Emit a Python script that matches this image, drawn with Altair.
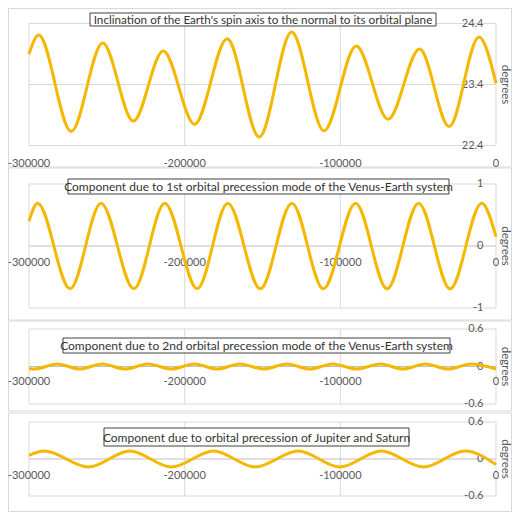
import altair as alt
import pandas as pd

# ---- data (extrema and end points, years) ----
years1 = [-300000, -293800, -272900, -252700, -233000, -213800, -193600, -172700,
          -152100, -131300, -110500, -89800, -69300, -49100, -30100, -10900, 0]
vals1 = [23.90, 24.21, 22.63, 24.08, 22.80, 23.95, 22.75, 24.15,
         22.54, 24.26, 22.64, 24.03, 22.83, 23.98, 22.71, 24.18, 23.42]

years2 = [-300000, -294500, -273570, -253750, -232600, -212800, -191900, -172300,
          -151400, -131150, -110900, -90200, -69950, -49700, -29450, -9200, 0]
vals2 = [0.40, 0.69, -0.69, 0.69, -0.69, 0.69, -0.69, 0.69,
         -0.69, 0.69, -0.69, 0.69, -0.69, 0.69, -0.69, 0.69, 0.15]

years3 = [-300000, -296600, -281800, -267400, -253000, -238200, -223400, -208600,
          -193800, -179100, -164400, -149350, -134300, -119600, -104900, -89550,
          -74200, -59800, -45400, -30700, -16000, 0]
vals3 = [-0.035, -0.04, 0.04, -0.04, 0.04, -0.04, 0.04, -0.04,
         0.04, -0.04, 0.04, -0.04, 0.04, -0.04, 0.04, -0.04,
         0.04, -0.04, 0.04, -0.04, 0.04, -0.039]

years4 = [-300000, -290100, -261800, -235200, -208500, -181400, -154700, -127000,
          -100300, -73700, -46500, -19900, 0]
vals4 = [0.06, 0.13, -0.13, 0.13, -0.13, 0.13, -0.13, 0.13,
         -0.13, 0.13, -0.13, 0.13, -0.09]

titles = [
    "Inclination of the Earth's spin axis to the normal to its orbital plane",
    "Component due to 1st orbital precession mode of the Venus-Earth system",
    "Component due to 2nd orbital precession mode of the Venus-Earth system",
    "Component due to orbital precession of Jupiter and Saturn",
]
x_ticks = [-300000, -200000, -100000, 0]
x_grid = [-200000, -100000]
y_ticks = [[22.4, 23.4, 24.4], [-1, 0, 1], [-0.6, 0, 0.6], [-0.6, 0, 0.6]]
y_title = "degrees"

LINE = "#F5B800"
GRID = "#d9d9d9"
ZERO = "#bfbfbf"
LAB = "#595959"
FONT = "Lato"
XR = [21, 488]
W, H = 504, 504


def xenc(field="year"):
    return alt.X(f"{field}:Q", scale=alt.Scale(domain=[-300000, 0], range=XR, nice=False, zero=False),
                 axis=None)


def lab(v):
    return f"{v:g}"


def panel(years, vals, ticks, yrange, title, box, frame, fsize, xbase_bottom, xdy, midcolor):
    lo, mid, hi = ticks
    ys = alt.Scale(domain=[lo, hi], range=yrange, nice=False, zero=False)

    def yenc(f):
        return alt.Y(f"{f}:Q", scale=ys, axis=None)

    df = pd.DataFrame({"year": years, "deg": vals})
    line = alt.Chart(df).mark_line(color=LINE, strokeWidth=3, interpolate="monotone").encode(
        x=xenc(), y=yenc("deg"))

    plotbox = alt.Chart(pd.DataFrame({"x0": [x_ticks[0]], "x1": [x_ticks[-1]], "y0": [lo], "y1": [hi]})
                        ).mark_rect(fillOpacity=0, stroke=GRID, strokeWidth=1).encode(
        x=xenc("x0"), x2="x1:Q", y=yenc("y0"), y2="y1:Q")
    vgrid = alt.Chart(pd.DataFrame({"year": x_grid, "y0": [lo] * len(x_grid), "y1": [hi] * len(x_grid)})
                      ).mark_rule(color=GRID, strokeWidth=1).encode(x=xenc(), y=yenc("y0"), y2="y1:Q")
    hgrid = alt.Chart(pd.DataFrame({"x0": [x_ticks[0]], "x1": [x_ticks[-1]], "y0": [mid]})
                      ).mark_rule(color=midcolor, strokeWidth=1).encode(x=xenc("x0"), x2="x1:Q", y=yenc("y0"))

    base = lo if xbase_bottom else 0
    xlab = alt.Chart(pd.DataFrame({"year": x_ticks, "y0": [base] * len(x_ticks),
                                   "lab": [lab(v) for v in x_ticks]})
                     ).mark_text(font=FONT, fontSize=11, color=LAB, align="center", baseline="middle",
                                 dy=xdy).encode(x=xenc(), y=yenc("y0"), text="lab:N")
    ylab = alt.Chart(pd.DataFrame({"year": [0, 0, 0], "y0": ticks, "lab": [lab(v) for v in ticks]})
                     ).mark_text(font=FONT, fontSize=11, color=LAB, align="right", baseline="middle",
                                 dx=-12.5).encode(x=xenc(), y=yenc("y0"), text="lab:N")
    ytit = alt.Chart(pd.DataFrame({"y0": [mid], "t": [y_title]})
                     ).mark_text(font=FONT, fontSize=11.5, color=LAB, align="center", baseline="middle",
                                 angle=90).encode(x=alt.value(497), y=yenc("y0"), text="t:N")

    one = pd.DataFrame({"t": [title]})
    fr = alt.Chart(one).mark_rect(fillOpacity=0, stroke=GRID, strokeWidth=1).encode(
        x=alt.value(frame[0]), x2=alt.value(frame[1]), y=alt.value(frame[2]), y2=alt.value(frame[3]))
    tbox = alt.Chart(one).mark_rect(fill="white", stroke="#404040", strokeWidth=1).encode(
        x=alt.value(box[0]), x2=alt.value(box[1]), y=alt.value(box[2]), y2=alt.value(box[3]))
    ttext = alt.Chart(one).mark_text(font=FONT, fontSize=fsize, color="#333333",
                                     align="center", baseline="middle").encode(
        text="t:N", x=alt.value((box[0] + box[1]) / 2), y=alt.value((box[2] + box[3]) / 2 + 0.5))
    return alt.layer(fr, plotbox, vgrid, hgrid, xlab, ylab, ytit, line, tbox, ttext)


p1 = panel(years1, vals1, y_ticks[0], [137.5, 15.5], titles[0], (82, 428, 5, 18),
           (0.5, 503.5, 0.5, 159), 11.7, True, 18, GRID)
p2 = panel(years2, vals2, y_ticks[1], [300, 176], titles[1], (60, 441, 171, 186),
           (0.5, 503.5, 160, 312), 12, False, 17, ZERO)
p3 = panel(years3, vals3, y_ticks[2], [396, 321], titles[2], (55, 442, 330, 345),
           (0.5, 503.5, 313, 403), 12, False, 15, ZERO)
p4 = panel(years4, vals4, y_ticks[3], [488, 414], titles[3], (96, 401, 420, 438),
           (0.5, 503.5, 405, 503.5), 12, False, 17, ZERO)

chart = alt.layer(p1, p2, p3, p4).resolve_scale(y="independent").properties(
    width=W, height=H,
    autosize=alt.AutoSizeParams(type="none"),
    padding={"left": 0, "top": 0, "right": 0, "bottom": 0},
).configure_view(stroke="transparent")

chart.save("out.html", embed_options={"renderer": "svg", "actions": False})
